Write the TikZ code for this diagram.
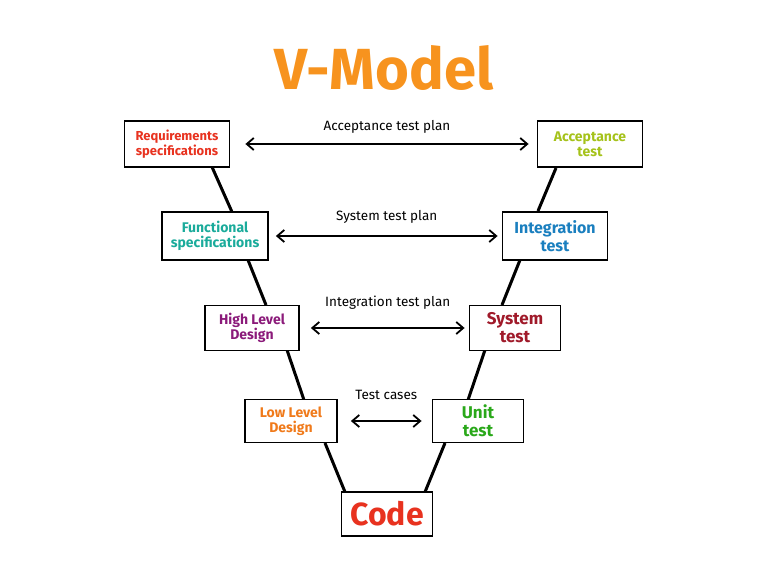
\documentclass[tikz,border=0pt]{standalone}
\usepackage{fontspec}
\setmainfont{Fira Sans}
\usetikzlibrary{arrows.meta}
\definecolor{cred}{HTML}{E8321F}
\definecolor{cyg}{HTML}{A5C21A}
\definecolor{cteal}{HTML}{1AAB9B}
\definecolor{cblue}{HTML}{1A7FBF}
\definecolor{cpur}{HTML}{8B1A7A}
\definecolor{cdred}{HTML}{A01A2A}
\definecolor{corg}{HTML}{F07A1A}
\definecolor{cgreen}{HTML}{2AA81A}
\definecolor{ctitle}{HTML}{F7931E}
\tikzset{
  bx/.style={draw=black, line width=1.8pt, fill=white, align=center, font=\bfseries\fontsize{14}{15}\selectfont, inner sep=1pt},
  vline/.style={line width=3pt, black},
  harr/.style={line width=1.8pt, {Straight Barb[length=7pt,width=12pt]}-{Straight Barb[length=7pt,width=12pt]}},
  lbl/.style={font=\fontsize{13.5}{14}\selectfont}
}
\begin{document}
\begin{tikzpicture}[x=1pt,y=-1pt]
\useasboundingbox (0,0) rectangle (768,580);
\node[font=\bfseries\fontsize{58}{58}\selectfont, text=ctitle] (title) at (384,68) {V-Model};
\coordinate (l1) at (212,167); \coordinate (l2) at (232,212);
\coordinate (l3) at (248,260); \coordinate (l4) at (266,305);
\coordinate (l5) at (287,350); \coordinate (l6) at (304,400);
\coordinate (l7) at (325,443); \coordinate (l8) at (345,492);
\coordinate (r1) at (556,168); \coordinate (r2) at (538,211);
\coordinate (r3) at (520,260); \coordinate (r4) at (502,305);
\coordinate (r5) at (485,350); \coordinate (r6) at (468,400);
\coordinate (r7) at (445,443); \coordinate (r8) at (425,492);
\draw[vline] (l1)--(l2) (l3)--(l4) (l5)--(l6) (l7)--(l8);
\draw[vline] (r1)--(r2) (r3)--(r4) (r5)--(r6) (r7)--(r8);
\node[bx, minimum width=105pt, minimum height=46pt, text=cred, font=\bfseries\fontsize{13}{15}\selectfont] (req) at (177,144) {Requirements\\specifications};
\node[bx, minimum width=105pt, minimum height=46pt, text=cyg] (acc) at (590,144) {Acceptance\\test};
\node[bx, minimum width=106pt, minimum height=48pt, text=cteal] (fun) at (215,236) {Functional\\specifications};
\node[bx, minimum width=105pt, minimum height=48pt, text=cblue, font=\bfseries\fontsize{16}{18}\selectfont] (int) at (555,236) {Integration\\test};
\node[bx, minimum width=94pt, minimum height=45pt, text=cpur] (hld) at (252,328) {High Level\\Design};
\node[bx, minimum width=91pt, minimum height=45pt, text=cdred, font=\bfseries\fontsize{17}{18}\selectfont] (sys) at (515,328) {System\\test};
\node[bx, minimum width=92pt, minimum height=43pt, text=corg] (lld) at (291,421) {Low Level\\Design};
\node[bx, minimum width=91pt, minimum height=43pt, text=cgreen, font=\bfseries\fontsize{17}{18}\selectfont] (unit) at (478,421) {Unit\\test};
\node[bx, minimum width=91pt, minimum height=44pt, text=cred, font=\bfseries\fontsize{32}{32}\selectfont] (code) at (387,514) {Code};
\draw[harr] ([xshift=15pt]req.east) -- ([xshift=-8pt]acc.west) node[midway, above=6pt, lbl] (t1) {Acceptance test plan};
\draw[harr] ([xshift=7pt]fun.east) -- ([xshift=-4pt]int.west) node[midway, above=8pt, lbl] (t2) {System test plan};
\draw[harr] ([xshift=11pt]hld.east) -- ([xshift=-4pt]sys.west) node[midway, above=14pt, lbl] (t3) {Integration test plan};
\draw[harr] ([xshift=13pt]lld.east) -- ([xshift=-10pt]unit.west) node[midway, above=17pt, lbl] (t4) {Test cases};
\end{tikzpicture}
\end{document}
